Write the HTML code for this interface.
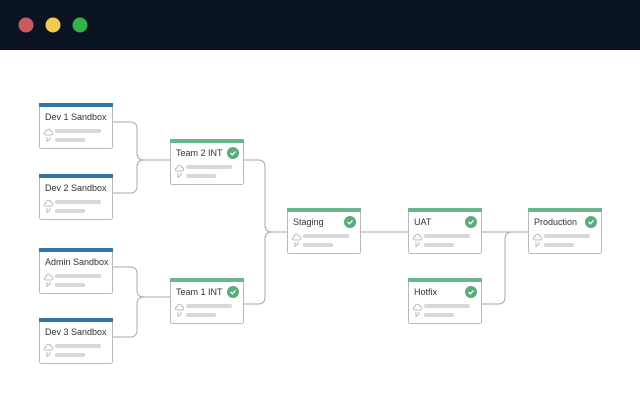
<!DOCTYPE html>
<html><head><style>
body{margin:0;width:640px;height:406px;overflow:hidden;background:#fff;font-family:"Liberation Sans",sans-serif}
</style></head><body>
<svg width="640" height="406" xmlns="http://www.w3.org/2000/svg" font-family="Liberation Sans, sans-serif">
<rect x="0" y="0" width="640" height="50" fill="#0a1321"/>
<circle cx="26" cy="25" r="7.5" fill="#c85b5c"/>
<circle cx="53" cy="25" r="7.5" fill="#f3c953"/>
<circle cx="80" cy="25" r="7.5" fill="#33b24a"/>
<g fill="none" stroke="#a8a8a8" stroke-width="1">
<path d="M113 122 H130 Q137 122 137 129 V153 Q137 160 144 160 H170"/>
<path d="M113 193 H130 Q137 193 137 186 V167 Q137 160 144 160"/>
<path d="M113 267 H130 Q137 267 137 274 V290 Q137 297 144 297 H170"/>
<path d="M113 337 H130 Q137 337 137 330 V304 Q137 297 144 297"/>
<path d="M244 160 H258 Q265 160 265 167 V225 Q265 232 272 232 H287"/>
<path d="M244 304 H258 Q265 304 265 297 V239 Q265 232 272 232"/>
<path d="M361 232 H408"/>
<path d="M482 232 H528"/>
<path d="M482 304 H498 Q505 304 505 297 V239 Q505 232 512 232"/>
</g>
<defs>
<g id="body">
<rect x="0.5" y="0.5" width="73" height="45" rx="2" fill="#fff" stroke="#b9b9b9"/>
<path d="M7 29 a2.5 2.5 0 0 1 5 -0.5 a1.7 1.7 0 0 1 0 3.5 h-5 a1.5 1.5 0 0 1 0 -3z" fill="none" stroke="#aaa" stroke-width="0.8"/>
<path d="M8 34 v5 M11 34 v1.5 q0 1.5 -3 2.5" fill="none" stroke="#aaa" stroke-width="0.8"/>
<rect x="16" y="26" width="46" height="4" rx="2" fill="#d8d8d8"/>
<rect x="16" y="35" width="30" height="4" rx="2" fill="#d8d8d8"/>
</g>
<g id="chk"><circle cx="63" cy="14" r="6" fill="#5aac7c"/><path d="M60.5 14 l1.8 1.8 l3.2 -3.4" fill="none" stroke="#fff" stroke-width="1.3"/></g>
</defs>
<g font-size="9" fill="#333">
<g transform="translate(39,103)"><use href="#body"/><rect x="0" y="0" width="74" height="4" fill="#2e74a6"/><text x="6" y="17">Dev 1 Sandbox</text></g>
<g transform="translate(39,174)"><use href="#body"/><rect x="0" y="0" width="74" height="4" fill="#2e74a6"/><text x="6" y="17">Dev 2 Sandbox</text></g>
<g transform="translate(39,248)"><use href="#body"/><rect x="0" y="0" width="74" height="4" fill="#2e74a6"/><text x="6" y="17">Admin Sandbox</text></g>
<g transform="translate(39,318)"><use href="#body"/><rect x="0" y="0" width="74" height="4" fill="#2e74a6"/><text x="6" y="17">Dev 3 Sandbox</text></g>
<g transform="translate(170,139)"><use href="#body"/><rect x="0" y="0" width="74" height="4" fill="#6bb58c"/><use href="#chk"/><text x="6" y="17">Team 2 INT</text></g>
<g transform="translate(170,278)"><use href="#body"/><rect x="0" y="0" width="74" height="4" fill="#6bb58c"/><use href="#chk"/><text x="6" y="17">Team 1 INT</text></g>
<g transform="translate(287,208)"><use href="#body"/><rect x="0" y="0" width="74" height="4" fill="#6bb58c"/><use href="#chk"/><text x="6" y="17">Staging</text></g>
<g transform="translate(408,208)"><use href="#body"/><rect x="0" y="0" width="74" height="4" fill="#6bb58c"/><use href="#chk"/><text x="6" y="17">UAT</text></g>
<g transform="translate(408,278)"><use href="#body"/><rect x="0" y="0" width="74" height="4" fill="#6bb58c"/><use href="#chk"/><text x="6" y="17">Hotfix</text></g>
<g transform="translate(528,208)"><use href="#body"/><rect x="0" y="0" width="74" height="4" fill="#6bb58c"/><use href="#chk"/><text x="6" y="17">Production</text></g>
</g>
</svg>
</body></html>
